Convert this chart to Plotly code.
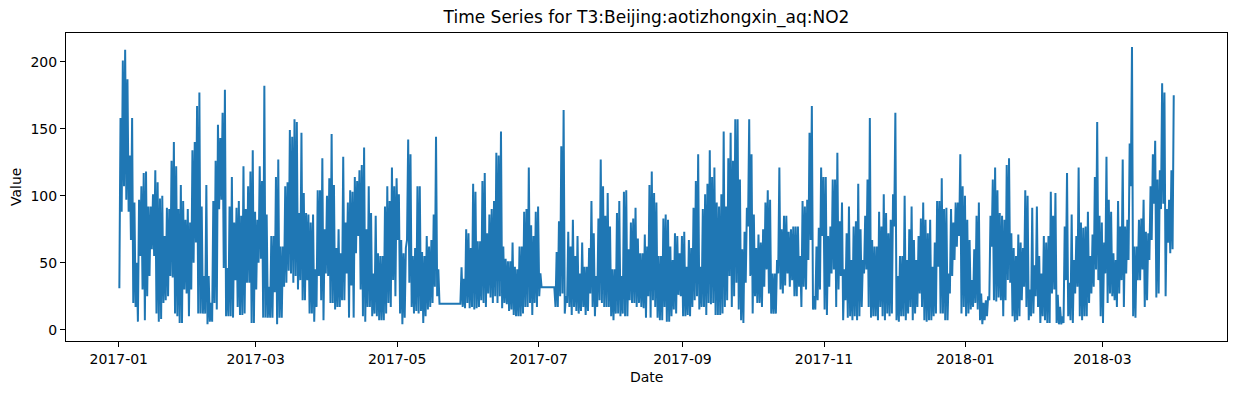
import pandas as pd
import plotly.graph_objects as go

# Daily envelope of the hourly NO2 series (2017-01-01 .. 2018-03-31)
day_high = [
    158, 201, 209, 187, 130, 158, 95, 50, 97, 107,
    117, 118, 92, 92, 101, 119, 110, 98, 100, 70,
    91, 90, 126, 140, 122, 90, 108, 96, 82, 90,
    80, 134, 140, 167, 177, 92, 40, 108, 40, 20,
    96, 126, 153, 143, 162, 179, 46, 92, 114, 80,
    91, 96, 85, 122, 90, 107, 118, 134, 88, 82,
    122, 111, 182, 86, 32, 70, 70, 114, 127, 62,
    62, 107, 110, 149, 144, 157, 155, 87, 147, 102,
    87, 86, 80, 86, 45, 104, 104, 128, 75, 100,
    113, 146, 108, 61, 75, 57, 129, 80, 95, 104,
    103, 114, 111, 119, 123, 136, 75, 107, 87, 42,
    85, 57, 55, 55, 92, 107, 96, 121, 107, 113,
    101, 67, 57, 61, 142, 131, 55, 61, 107, 107,
    58, 55, 70, 62, 67, 86, 144, 45, 19.4, 19.4,
    19.4, 19.4, 19.4, 19.4, 19.4, 19.4, 19.4, 46.5, 38, 75,
    72, 61, 109, 103, 66, 66, 111, 117, 72, 86,
    90, 96, 132, 130, 148, 62, 53, 51, 51, 65,
    47, 45, 62, 62, 88, 90, 121, 78, 70, 88,
    92, 42, 31.6, 31.6, 31.6, 31.6, 31.6, 31.6, 58, 81,
    137, 164, 25, 73, 62, 82, 55, 70, 42, 65,
    47, 47, 61, 96, 72, 40, 83, 127, 107, 85,
    102, 77, 45, 45, 87, 96, 40, 103, 104, 60,
    80, 83, 91, 68, 57, 57, 71, 62, 108, 118,
    102, 95, 55, 55, 83, 86, 82, 62, 52, 72,
    70, 57, 70, 73, 47, 67, 61, 91, 111, 131,
    47, 90, 101, 109, 134, 114, 121, 95, 92, 101,
    148, 92, 128, 147, 126, 157, 157, 112, 60, 73,
    91, 157, 131, 86, 61, 71, 65, 75, 95, 104,
    97, 42, 42, 52, 121, 75, 85, 85, 73, 75,
    77, 77, 77, 55, 96, 92, 97, 147, 167, 25,
    62, 76, 121, 114, 114, 70, 77, 112, 112, 132,
    81, 95, 45, 72, 92, 52, 77, 81, 109, 75,
    52, 85, 112, 158, 67, 62, 62, 88, 77, 101,
    87, 72, 82, 101, 162, 40, 55, 55, 100, 52,
    75, 92, 67, 52, 70, 83, 95, 82, 72, 82,
    47, 65, 96, 96, 113, 90, 91, 42, 90, 80,
    95, 95, 131, 107, 100, 82, 67, 37, 60, 85,
    95, 27, 20, 22, 25, 85, 112, 121, 104, 87,
    85, 82, 123, 128, 72, 61, 55, 71, 65, 61,
    104, 100, 30, 91, 48, 92, 55, 42, 70, 65,
    70, 103, 85, 102, 26, 17, 10, 77, 117, 35,
    86, 52, 70, 121, 80, 76, 77, 88, 55, 71,
    114, 155, 85, 80, 65, 129, 97, 88, 57, 52,
    96, 77, 127, 77, 82, 139, 211, 62, 62, 82,
    83, 97, 73, 72, 107, 131, 141, 112, 119, 184,
    177, 90, 97, 119, 175,
]

day_low = [
    31, 88, 107, 97, 88, 67, 20, 17, 6, 55,
    30, 7, 25, 40, 60, 55, 12, 6, 8, 20,
    22, 25, 40, 39, 12, 10, 5, 5, 30, 27,
    10, 30, 50, 65, 12, 12, 12, 12, 4, 6,
    6, 20, 15, 90, 97, 46, 10, 10, 10, 9,
    37, 17, 11, 11, 12, 35, 35, 5, 5, 30,
    50, 53, 9, 9, 9, 9, 9, 28, 4, 9,
    9, 32, 35, 44, 42, 35, 40, 30, 37, 22,
    22, 37, 12, 12, 6, 17, 40, 22, 7, 42,
    40, 20, 20, 15, 17, 17, 22, 22, 42, 9,
    33, 9, 57, 70, 30, 10, 6, 17, 17, 10,
    12, 10, 7, 7, 7, 12, 20, 17, 37, 25,
    67, 12, 4, 9, 67, 35, 17, 12, 14, 12,
    14, 5, 10, 15, 17, 20, 32, 25, 19.4, 19.4,
    19.4, 19.4, 19.4, 19.4, 19.4, 19.4, 19.4, 19.4, 17, 16,
    20, 16, 17, 15, 16, 17, 22, 20, 17, 27,
    24, 20, 25, 20, 25, 16, 20, 19, 14, 15,
    11, 10, 10, 10, 12, 17, 17, 20, 11, 20,
    17, 25, 31.6, 31.6, 31.6, 31.6, 31.6, 31.6, 17, 17,
    25, 27, 12, 20, 17, 11, 17, 14, 12, 14,
    17, 11, 14, 27, 17, 10, 17, 22, 20, 17,
    17, 17, 10, 7, 12, 12, 10, 12, 10, 10,
    22, 20, 20, 17, 20, 17, 16, 9, 25, 9,
    22, 17, 9, 7, 7, 17, 6, 6, 10, 15,
    12, 26, 25, 10, 10, 11, 10, 17, 22, 25,
    15, 17, 17, 11, 20, 19, 20, 11, 11, 11,
    12, 17, 22, 40, 17, 25, 35, 15, 7, 5,
    35, 77, 40, 12, 25, 20, 20, 17, 32, 45,
    27, 12, 12, 12, 42, 30, 27, 33, 42, 32,
    37, 25, 25, 32, 17, 32, 30, 52, 67, 15,
    15, 22, 30, 70, 15, 11, 32, 42, 45, 17,
    30, 40, 7, 22, 9, 10, 7, 10, 7, 10,
    17, 42, 45, 17, 9, 10, 10, 7, 17, 10,
    7, 12, 10, 12, 77, 7, 6, 10, 10, 7,
    12, 17, 7, 12, 17, 27, 17, 7, 6, 7,
    7, 10, 12, 47, 12, 12, 7, 7, 27, 40,
    52, 62, 70, 12, 17, 10, 12, 15, 17, 20,
    15, 7, 4, 7, 10, 22, 62, 22, 21, 24,
    22, 10, 22, 37, 35, 10, 6, 7, 10, 22,
    32, 17, 7, 10, 12, 25, 17, 5, 10, 7,
    5, 5, 27, 30, 5, 4, 4, 5, 37, 10,
    7, 5, 27, 32, 10, 7, 10, 10, 20, 27,
    32, 45, 37, 10, 5, 42, 20, 27, 25, 22,
    17, 27, 37, 17, 42, 52, 107, 10, 9, 37,
    37, 45, 17, 22, 52, 67, 94, 24, 27, 90,
    94, 25, 65, 57, 60,
]

days = pd.date_range("2017-01-01", "2018-03-31", freq="D")
if not (len(days) == len(day_high) == len(day_low)):
    raise ValueError(f"length mismatch {len(days)} {len(day_high)} {len(day_low)}")

tick_dates = ["2017-01-01", "2017-03-01", "2017-05-01", "2017-07-01",
              "2017-09-01", "2017-11-01", "2018-01-01", "2018-03-01"]
tick_labels = ["2017-01", "2017-03", "2017-05", "2017-07",
               "2017-09", "2017-11", "2018-01", "2018-03"]
y_ticks = [0, 50, 100, 150, 200]

xs, ys = [], []
for d, lo, hi in zip(days, day_low, day_high):
    xs.append(d + pd.Timedelta(hours=6))
    ys.append(lo)
    xs.append(d + pd.Timedelta(hours=18))
    ys.append(hi)

t0 = pd.Timestamp("2017-01-01 00:00")
t1 = pd.Timestamp("2018-03-31 23:00")
span = t1 - t0
x_range = [t0 - 0.05 * span, t1 + 0.05 * span]
y_min, y_max = min(day_low), max(day_high)
y_pad = 0.05 * (y_max - y_min)
y_range = [y_min - y_pad - 8.0 + 2.0 + 3.6, y_max + y_pad]

FONT = "DejaVu Sans"
W, H = 1238, 393
ML, MR, MT, MB = 66, 11, 33, 52

fig = go.Figure()
fig.add_trace(go.Scatter(x=xs, y=ys, mode="lines",
                         line=dict(color="#1f77b4", width=2),
                         showlegend=False, hoverinfo="skip"))

axis_common = dict(showline=True, mirror=True, linecolor="black", linewidth=1,
                   ticks="outside", ticklen=5, tickwidth=1, tickcolor="black",
                   showgrid=False, zeroline=False,
                   tickfont=dict(family=FONT, size=14, color="black"))

fig.update_layout(
    width=W, height=H,
    margin=dict(l=ML, r=MR, t=MT, b=MB, pad=0),
    paper_bgcolor="white", plot_bgcolor="white",
    font=dict(family=FONT, color="black"),
    title=dict(text="Time Series for T3:Beijing:aotizhongxin_aq:NO2",
               font=dict(family=FONT, size=17, color="black"),
               x=0.5, xref="paper", xanchor="center",
               y=(H - 17) / H, yref="container", yanchor="middle"),
    xaxis=dict(range=x_range, tickvals=tick_dates, ticktext=tick_labels, **axis_common),
    yaxis=dict(range=[-8.45, 221.45], tickvals=y_ticks, **axis_common),
)

plot_h = H - MT - MB
plot_w = W - ML - MR
fig.add_annotation(text="Date", xref="paper", yref="paper",
                   x=0.5, y=(H - MB - 377) / plot_h, xanchor="center", yanchor="middle",
                   showarrow=False, font=dict(family=FONT, size=14, color="black"))
fig.add_annotation(text="Value", xref="paper", yref="paper",
                   x=(16 - ML) / plot_w, y=0.5, xanchor="center", yanchor="middle",
                   textangle=-90, showarrow=False,
                   font=dict(family=FONT, size=14, color="black"))

fig.write_html("out.html")
